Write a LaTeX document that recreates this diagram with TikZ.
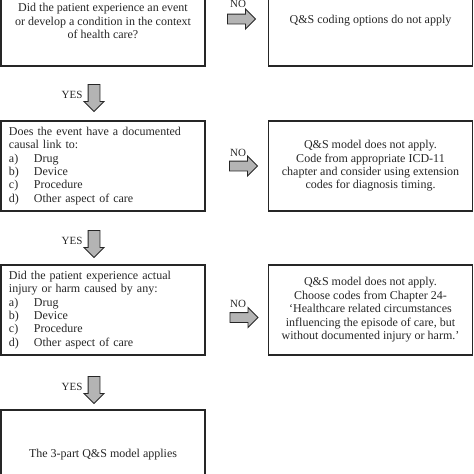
\documentclass[tikz,border=0pt]{standalone}
\usepackage{fontspec}
\setmainfont{Liberation Serif}
\usepackage{xcolor}
\usetikzlibrary{shapes, arrows, positioning, calc}
\definecolor{ink}{HTML}{262626}
\definecolor{arrowgray}{HTML}{B4B4B4}

\begin{document}
\begin{tikzpicture}[x=1pt, y=-1pt,
  box/.style={draw=ink, line width=1.3pt, rectangle, minimum width=204pt, minimum height=90pt, inner sep=0pt, text=ink, font=\fontsize{12}{13.4}\selectfont},
  listbox/.style={box, align=left, text width=188pt},
  midbox/.style={box, align=center},
  rightarr/.style={single arrow, draw=ink, line width=0.9pt, fill=arrowgray, minimum height=28pt, inner sep=4.5pt, single arrow head extend=5pt},
  downarr/.style={single arrow, draw=ink, line width=0.9pt, fill=arrowgray, minimum height=27pt, inner sep=5.5pt, single arrow head extend=4pt, shape border rotate=270},
  lbl/.style={text=ink, font=\fontsize{11}{12}\selectfont, inner sep=0pt}]

\useasboundingbox (0,0) rectangle (474,474);

% Left column: questions
\node[midbox] (q1) at (103, 21) {Did the patient experience an event\\or develop a condition in the context\\of health care?};
\node[listbox] (q2) at (103, 166) {Does the event have a documented\\causal link to:\\\makebox[25pt][l]{a)}Drug\\\makebox[25pt][l]{b)}Device\\\makebox[25pt][l]{c)}Procedure\\\makebox[25pt][l]{d)}Other aspect of care};
\node[listbox] (q3) at (103, 310) {Did the patient experience actual\\injury or harm caused by any:\\\makebox[25pt][l]{a)}Drug\\\makebox[25pt][l]{b)}Device\\\makebox[25pt][l]{c)}Procedure\\\makebox[25pt][l]{d)}Other aspect of care};
\node[midbox] (q4) at (103, 455) {The 3-part Q\&S model applies};

% Right column: outcomes
\node[midbox] (o1) at (370.5, 21) {Q\&S coding options do not apply};
\node[midbox] (o2) at (370.5, 166) {Q\&S model does not apply.\\Code from appropriate ICD-11\\chapter and consider using extension\\codes for diagnosis timing.};
\node[box] (o3) at (370.5, 310) {\begin{tabular}{@{}c@{}}Q\&S model does not apply.\\Choose codes from Chapter 24-\\`Healthcare related circumstances\\influencing the episode of care, but\\without documented injury or harm.'\end{tabular}\rule[-12pt]{0pt}{0pt}};

% NO arrows
\node[rightarr] (no1) at (239, 19) {};
\node[rightarr] (no2) at (241, 166) {};
\node[rightarr] (no3) at (241.5, 317.5) {};
\node[lbl] at (238, 4) {NO};
\node[lbl] at (238, 153) {NO};
\node[lbl] at (238, 304) {NO};

% YES arrows
\node[downarr] (yes1) at (94, 95) {};
\node[downarr] (yes2) at (94, 241) {};
\node[downarr] (yes3) at (94, 387) {};
\node[lbl, left=5pt of yes1] {YES};
\node[lbl, left=5pt of yes2] {YES};
\node[lbl, left=5pt of yes3] {YES};

\end{tikzpicture}
\end{document}
